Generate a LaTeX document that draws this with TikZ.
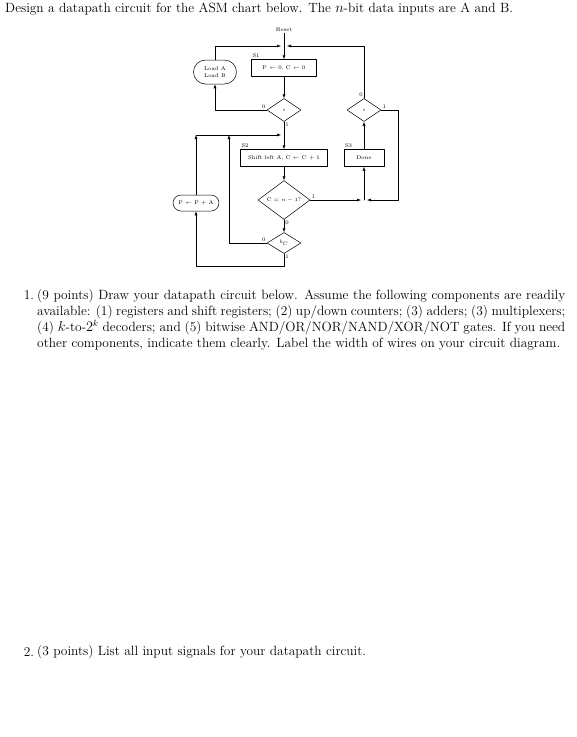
\documentclass[tikz,border=0pt]{standalone}
\usepackage{amsmath,amssymb}
\usepackage{tikz}
\usetikzlibrary{arrows.meta,calc,positioning,shapes.geometric,shapes.misc}
\tikzset{
  statebox/.style={rectangle, draw, minimum height=17pt, inner sep=1pt, font=\fontsize{5.5}{6.5}\selectfont},
  outbox/.style={rounded rectangle, draw, inner sep=1pt, font=\fontsize{5.5}{6.5}\selectfont},
  test/.style={diamond, draw, inner sep=0pt, font=\fontsize{5.5}{6.5}\selectfont},
  tiny/.style={font=\fontsize{5.5}{6.5}\selectfont, inner sep=1pt},
  body/.style={font=\fontsize{13.4}{16}\selectfont, inner sep=0pt},
  every picture/.style={line cap=round, line join=round},
  >={Latex[length=4pt,width=3pt]}
}

\begin{document}
\begin{tikzpicture}[x=1pt,y=-1pt,line width=0.5pt]
  \useasboundingbox (0,0) rectangle (577,737);

  % question text
  \node[body,anchor=west] (title) at (5,9) {Design a datapath circuit for the ASM chart below. The $n$-bit data inputs are A and B.};

  % ASM chart
  \node[tiny] (reset) at (284,30) {Reset};
  \node[statebox,minimum width=65pt] (s1) at (284,68) {P $\leftarrow$ 0, C $\leftarrow$ 0};
  \node[tiny,anchor=south west] at (s1.north west) {S1};
  \node[outbox,minimum width=45pt,minimum height=24pt,align=center] (load) at (215,72) {Load A\\Load B};
  \node[test,minimum width=34pt,minimum height=23pt] (sa) at (284,110) {$s$};
  \node[statebox,minimum width=87pt] (s2) at (284,158) {Shift left A, C $\leftarrow$ C + 1};
  \node[tiny,anchor=south west] at (s2.north west) {S2};
  \node[test,minimum width=52pt,minimum height=35pt] (cn) at (284,200) {C = $n-1$?};
  \node[test,minimum width=34pt,minimum height=21pt] (bc) at (284,243) {$b_C$};
  \node[outbox,minimum width=48pt,minimum height=16pt] (add) at (196,203) {P $\leftarrow$ P + A};
  \node[statebox,minimum width=40pt] (done) at (364,158) {Done};
  \node[tiny,anchor=south west] at (done.north west) {S3};
  \node[test,minimum width=34pt,minimum height=23pt] (sb) at (364,110) {$s$};

  \coordinate (jl) at (281,46);
  \coordinate (jr) at (287,46);
  \coordinate (ja) at (196,135);
  \coordinate (jb) at (229,135);
  \coordinate (jm) at (281,135);
  \coordinate (jd) at (361,200);
  \coordinate (je) at (367,200);
  \coordinate (jf) at (364,200);

  \draw[->] (reset) -- (s1);
  \draw[->] (load.north) |- (jl);
  \draw[->] (sb.north) |- (jr);
  \draw[->] (s1) -- (sa);
  \draw[->] (sa.west) -| (load.south);
  \draw[->] (sa.south) -- (s2);
  \draw[->] (s2) -- (cn);
  \draw[->] (cn.south) -- (bc.north);
  \draw[->] (bc.west) -| (jb);
  \draw[->] (bc.south) -- ++(0,12) -| (add.south);
  \draw[->] (add.north) -- (ja);
  \draw[->] (ja) -- (jm);
  \draw[->] (cn.east) -- (jd);
  \draw[->] (sb.east) -- ++(17,0) |- (je);
  \draw[->] (jf) -- (done.south);
  \draw[->] (done) -- (sb.south);

  \node[tiny,anchor=south east] at (sa.west) {0};
  \node[tiny,anchor=north west] at (sa.south) {1};
  \node[tiny,anchor=south west] at (cn.east) {1};
  \node[tiny,anchor=north west] at (cn.south) {0};
  \node[tiny,anchor=south east] at (bc.west) {0};
  \node[tiny,anchor=north west] at (bc.south) {1};
  \node[tiny,anchor=south east] at (sb.north) {0};
  \node[tiny,anchor=south west] at (sb.east) {1};

  % questions
  \node[body] (n1) at (29,295) {1.};
  \node[body,anchor=north west,text width=528pt,align=justify] (q1) at (37,289)
    {(9 points) Draw your datapath circuit below. Assume the following components are readily available: (1) registers and shift registers; (2) up/down counters; (3) adders; (3) multiplexers; (4) $k$-to-$2^k$ decoders; and (5) bitwise AND/OR/NOR/NAND/XOR/NOT gates. If you need other components, indicate them clearly. Label the width of wires on your circuit diagram.};
  \node[body] (n2) at (29,652) {2.};
  \node[body,anchor=west] (q2) at (37,652) {(3 points) List all input signals for your datapath circuit.};
\end{tikzpicture}
\end{document}
